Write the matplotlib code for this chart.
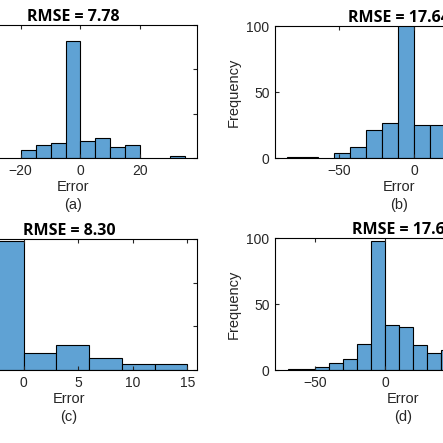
import matplotlib
matplotlib.use('Agg')
import matplotlib.pyplot as plt

# histogram bins (left edges), bin width and counts per panel
edges_a = [-20, -15, -10, -5, 0, 5, 10, 15, 30]
width_a = 5
counts_a = [9, 14.6, 17, 132, 19, 22.5, 12, 14.6, 2]

edges_b = [-85.3, -74.7, -53.3, -42.7, -32.0, -21.3, -10.7, 0.0, 10.7, 21.3]
width_b = 10.67
counts_b = [1, 1, 3.8, 8.6, 21, 26.5, 115, 25, 25, 25]

edges_c = [-6, -3, 0, 3, 6, 9, 12]
width_c = 3
counts_c = [150, 148, 19, 29, 14, 6.5, 6.5]

edges_d = [-70, -60, -50, -40, -30, -20, -10, 0, 10, 20, 30, 40]
width_d = 10
counts_d = [1, 1, 2.3, 5.3, 8.3, 19.7, 97.5, 33.8, 32.6, 18.7, 12.6, 15]

titles = ['RMSE = 7.78', 'RMSE = 17.64', 'RMSE = 8.30', 'RMSE = 17.66']
letters = ['(a)', '(b)', '(c)', '(d)']

W = 443.0
# axes boxes in pixels: left, right, top, bottom
boxes = [(-51, 197, 25, 158), (275, 523, 26, 158), (-59, 197, 239, 370), (275, 531, 238, 370)]
xlims = [(-44, 39), (-93, 72.7), (-7.6, 15.9), (-79, 105)]
xticks = [[-40, -20, 0, 20], [-50, 0, 50], [-5, 0, 5, 10, 15], [-50, 0, 50, 100]]
ylims = [(0, 150), (0, 100), (0, 150), (0, 100)]
data = [(edges_a, width_a, counts_a), (edges_b, width_b, counts_b),
        (edges_c, width_c, counts_c), (edges_d, width_d, counts_d)]

fig = plt.figure(figsize=(4.43, 4.43), dpi=100)
for i in range(4):
    l, r, t, b = boxes[i]
    ax = fig.add_axes([l / W, 1 - b / W, (r - l) / W, (b - t) / W])
    e, w, c = data[i]
    ax.bar(e, c, width=w, align='edge', color='#5fa2d4', edgecolor='black', linewidth=0.8)
    ax.set_xlim(*xlims[i])
    ax.set_ylim(*ylims[i])
    ax.set_xticks(xticks[i])
    ax.set_yticks([0, 50, 100] if ylims[i][1] == 100 else [0, 50, 100, 150])
    ax.tick_params(direction='in', top=True, right=True, labelsize=10, colors='#262626',
                   length=3, pad=4)
    ax.set_xlabel('Error\n' + letters[i], fontsize=10.5, color='#262626', family='Liberation Sans',
                  linespacing=1.3, labelpad=2)
    ax.set_ylabel('Frequency', fontsize=10.5, color='#262626', family='Liberation Sans')
    ax.set_title(titles[i], fontsize=11.5, fontweight='bold', family='Open Sans', pad=3)
    for lab in ax.get_xticklabels() + ax.get_yticklabels():
        lab.set_family('Liberation Sans')

fig.savefig('out.png', dpi=100)
